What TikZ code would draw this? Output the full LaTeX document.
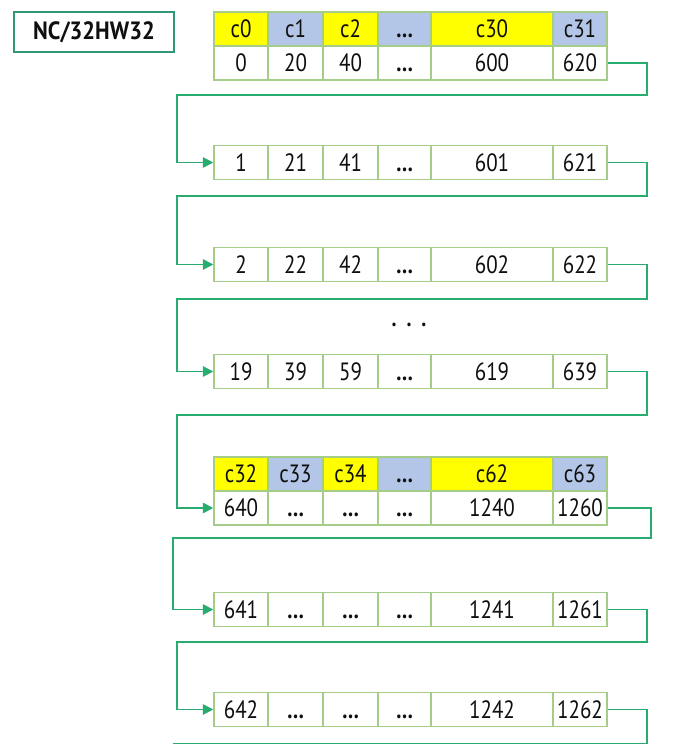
\documentclass[tikz,border=0pt]{standalone}
\usepackage{fontspec}
\setmainfont[FakeStretch=0.84]{PT Sans}
\newfontfamily\titlefont[FakeStretch=0.9]{PT Sans}
\usetikzlibrary{arrows.meta}
\definecolor{cellbd}{RGB}{165,204,136}
\definecolor{hdy}{RGB}{255,255,0}
\definecolor{hdb}{RGB}{180,198,231}
\definecolor{conn}{RGB}{40,172,112}
\definecolor{nbox}{RGB}{50,150,120}
\definecolor{txt}{RGB}{15,15,15}
\newcommand\myell{\textbf{…}}
\newcommand\cellrow[3]{%
  \foreach \t/\f [count=\i] in {#3} {%
    \pgfmathsetmacro\cx{{241,295.5,350.5,404.5,492,580}[\i-1]}%
    \pgfmathsetmacro\cw{{54,55,55,53,122,54}[\i-1]}%
    \node[cellbox, minimum width=\cw pt, fill=\f] (#1-\i) at (\cx,#2) {\t};
  }%
}
\begin{document}
\begin{tikzpicture}[x=1pt,y=-1pt,
  cellbox/.style={draw=cellbd, line width=1.5pt, rectangle, inner sep=0pt,
    minimum height=34pt, text height=17pt, text depth=0pt, text=txt,
    font=\fontsize{25}{27}\selectfont},
  conn/.style={draw=conn, line width=1.8pt, -{Triangle[length=10.5pt,width=10.5pt]}},
  connend/.style={draw=conn, line width=1.8pt},
  titlebox/.style={draw=nbox, line width=1.6pt, rectangle, minimum width=160pt,
    minimum height=40pt, inner sep=0pt, text=txt, font=\titlefont\fontsize{25}{27}\selectfont\bfseries}]
\useasboundingbox (0,0) rectangle (683,744);
\fill[white] (0,0) rectangle (683,744);

\node[titlebox] (title) at (94,32) {NC/32HW32};

\cellrow{h0}{29}{c0/hdy, c1/hdb, c2/hdy, \myell/hdb, c30/hdy, c31/hdb}
\cellrow{d0}{63}{0/white, 20/white, 40/white, \myell/white, 600/white, 620/white}
\cellrow{d1}{162.5}{1/white, 21/white, 41/white, \myell/white, 601/white, 621/white}
\cellrow{d2}{264.5}{2/white, 22/white, 42/white, \myell/white, 602/white, 622/white}
\node[text=txt, font=\fontsize{24}{26}\selectfont\bfseries, inner sep=0pt] (dots) at (409,325) {.\hspace{10pt}.\hspace{10pt}.};
\cellrow{d19}{371.5}{19/white, 39/white, 59/white, \myell/white, 619/white, 639/white}
\cellrow{h1}{474}{c32/hdy, c33/hdb, c34/hdy, \myell/hdb, c62/hdy, c63/hdb}
\cellrow{d640}{508}{640/white, \myell/white, \myell/white, \myell/white, 1240/white, 1260/white}
\cellrow{d641}{609.5}{641/white, \myell/white, \myell/white, \myell/white, 1241/white, 1261/white}
\cellrow{d642}{709.5}{642/white, \myell/white, \myell/white, \myell/white, 1242/white, 1262/white}

\coordinate (rt0) at (647,95);  \coordinate (lt0) at (177,95);
\coordinate (rt1) at (647,196); \coordinate (lt1) at (177,196);
\coordinate (rt2) at (647,299); \coordinate (lt2) at (177,299);
\coordinate (rt3) at (647,415); \coordinate (lt3) at (177,415);
\coordinate (rt4) at (651,538); \coordinate (lt4) at (173,538);
\coordinate (rt5) at (647,642); \coordinate (lt5) at (177,642);
\coordinate (rt6) at (647,743.5); \coordinate (lt6) at (173,743.5);

\draw[conn] (d0-6.east) -| (rt0) -- (lt0) |- (d1-1.west);
\draw[conn] (d1-6.east) -| (rt1) -- (lt1) |- (d2-1.west);
\draw[conn] (d2-6.east) -| (rt2) -- (lt2) |- (d19-1.west);
\draw[conn] (d19-6.east) -| (rt3) -- (lt3) |- (d640-1.west);
\draw[conn] (d640-6.east) -| (rt4) -- (lt4) |- (d641-1.west);
\draw[conn] (d641-6.east) -| (rt5) -- (lt5) |- (d642-1.west);
\draw[connend] (d642-6.east) -| (rt6) -- (lt6);
\end{tikzpicture}
\end{document}
